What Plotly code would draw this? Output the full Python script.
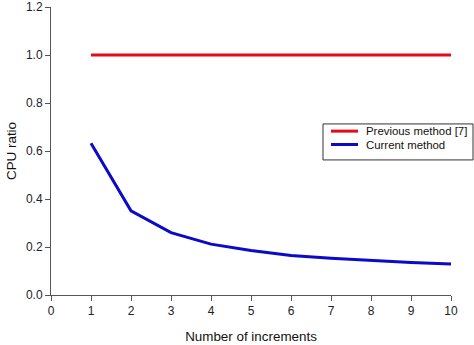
import plotly.graph_objects as go

# Number of increments and CPU-time ratio for each method
increments = [1, 2, 3, 4, 5, 6, 7, 8, 9, 10]
previous_ratio = [1.0, 1.0, 1.0, 1.0, 1.0, 1.0, 1.0, 1.0, 1.0, 1.0]
current_ratio = [0.632, 0.351, 0.260, 0.212, 0.185, 0.165, 0.153, 0.143, 0.135, 0.129]

series_names = ["Previous method [7]", "Current method"]
series_colors = ["rgb(230,10,25)", "rgb(10,10,200)"]

x_ticks = [0, 1, 2, 3, 4, 5, 6, 7, 8, 9, 10]
y_ticks = [0.0, 0.2, 0.4, 0.6, 0.8, 1.0, 1.2]

font_family = "Liberation Sans, Arial, sans-serif"

fig = go.Figure()
for name, ys, color in zip(series_names, [previous_ratio, current_ratio], series_colors):
    fig.add_trace(go.Scatter(
        x=increments, y=ys, mode="lines", name=name,
        line=dict(color=color, width=3), showlegend=False,
    ))

axis_common = dict(
    automargin=False,
    showline=True, linecolor="#555", linewidth=1,
    ticks="outside", ticklen=5, tickcolor="#555", tickwidth=1,
    showgrid=False, zeroline=False,
    tickfont=dict(family=font_family, size=12, color="#222"),
    title_font=dict(family=font_family, size=13.4, color="#111"),
)

fig.update_xaxes(
    range=[0, 10], tickvals=x_ticks, ticktext=[str(v) for v in x_ticks],
    title_text="Number of increments", title_standoff=14, **axis_common,
)
fig.update_yaxes(
    range=[0, 1.2], tickvals=y_ticks, ticktext=[f"{v:.1f}" for v in y_ticks],
    title_text="CPU ratio", title_standoff=6, **axis_common,
)

# Boxed legend drawn in plot-area (paper) coordinates
box = dict(x0=0.68, x1=1.055, y0=0.469, y1=0.594)
row_y = [0.569, 0.5225]
shapes = [dict(type="rect", xref="paper", yref="paper", **box,
               line=dict(color="#333", width=1), fillcolor="white", layer="above")]
annotations = []
for name, color, ry in zip(series_names, series_colors, row_y):
    shapes.append(dict(type="line", xref="paper", yref="paper",
                       x0=0.70, x1=0.7675, y0=ry, y1=ry,
                       line=dict(color=color, width=3), layer="above"))
    annotations.append(dict(xref="paper", yref="paper", x=0.7825, y=ry,
                            xanchor="left", yanchor="middle", showarrow=False,
                            text=name, font=dict(family=font_family, size=11.4, color="#111")))

fig.update_layout(
    template="none",
    width=474, height=345,
    margin=dict(l=51, r=23, t=7, b=50),
    plot_bgcolor="white", paper_bgcolor="white",
    font=dict(family=font_family, color="#111"),
    showlegend=False,
    shapes=shapes, annotations=annotations,
)

fig.write_html("out.html")
